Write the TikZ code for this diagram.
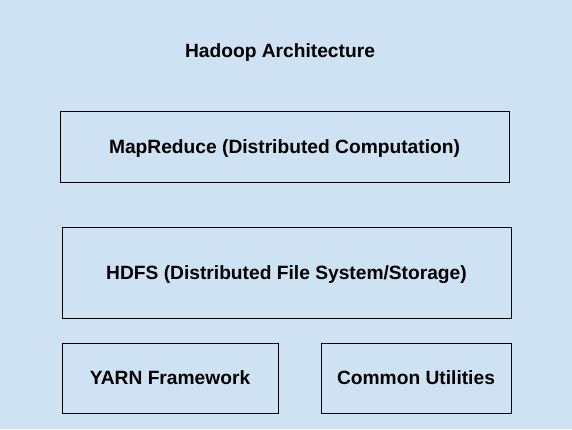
\documentclass[tikz,border=0pt]{standalone}
\usepackage{fontspec}
\setmainfont{Liberation Sans}
\definecolor{bgblue}{HTML}{CFE2F3}
\tikzset{
  label font/.style={font=\bfseries\fontsize{19.2}{22}\selectfont,
    text height=14pt, text depth=0.3pt},
  layer/.style={draw, line width=1pt, inner sep=0pt, label font},
}

\begin{document}
\begin{tikzpicture}[x=1pt,y=-1pt]
    % Background and page size
    \fill[bgblue] (0,0) rectangle (572,429);
    \useasboundingbox (0,0) rectangle (572,429);

    % Title
    \node (title) at (280,51) [label font, inner sep=0pt] {Hadoop Architecture};

    % Top layer
    \node (mapreduce) at (284.5,146.5) [layer, minimum width=449pt, minimum height=71pt] {MapReduce (Distributed Computation)};

    % Storage layer
    \node (hdfs) at (286.5,272.5) [layer, minimum width=449pt, minimum height=91pt] {HDFS (Distributed File System/Storage)};

    % Bottom layer
    \node (yarn) at (170,378) [layer, minimum width=216pt, minimum height=70pt] {YARN Framework};
    \node (common) at (416,378) [layer, minimum width=190pt, minimum height=70pt] {Common Utilities};
\end{tikzpicture}
\end{document}
